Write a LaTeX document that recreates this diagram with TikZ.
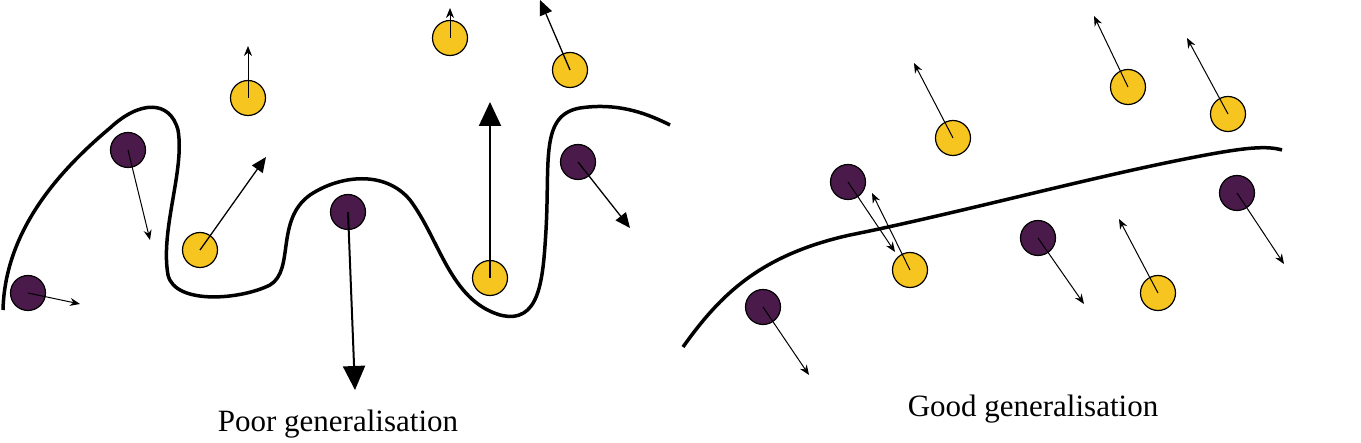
\documentclass[tikz,border=0pt]{standalone}
\usepackage{fontspec}
\setmainfont{Liberation Serif}
\usetikzlibrary{arrows.meta}
\definecolor{pur}{HTML}{4A1A4A}
\definecolor{yel}{HTML}{F7C520}
\begin{document}
\begin{tikzpicture}[x=1pt,y=-1pt,
  pt/.style={circle,draw=black,line width=1.2pt,minimum size=35pt,inner sep=0pt},
  pp/.style={pt,fill=pur},
  yp/.style={pt,fill=yel},
  thin/.style={line width=1pt,-{Stealth[length=10pt,width=8pt]}},
  thick/.style={line width=2pt,-{Triangle[length=24pt,width=22pt]}},
  mid/.style={line width=1.3pt,-{Triangle[length=15pt,width=13pt]}},
  bd/.style={line width=3.5pt,line join=round}]
\useasboundingbox (0,0) rectangle (1361,443);
% left boundary
\draw[bd] (3,310) .. controls (5,230) and (60,170) .. (110,128)
  .. controls (140,100) and (170,100) .. (178,130)
  .. controls (185,170) and (160,230) .. (168,275)
  .. controls (175,305) and (240,300) .. (270,285)
  .. controls (295,270) and (275,220) .. (310,195)
  .. controls (340,175) and (385,170) .. (410,200)
  .. controls (440,240) and (450,300) .. (500,315)
  .. controls (540,325) and (543,280) .. (546,230)
  .. controls (550,160) and (540,115) .. (580,108)
  .. controls (620,102) and (650,115) .. (670,125);
% right boundary
\draw[bd] (683,347) .. controls (720,295) and (760,255) .. (850,235)
  .. controls (950,215) and (1080,180) .. (1180,160)
  .. controls (1240,148) and (1265,145) .. (1282,150);
% left points
\node[pp] (a1) at (28,293) {};
\node[pp] (a2) at (128,150) {};
\node[pp] (a3) at (348,212) {};
\node[pp] (a4) at (578,162) {};
\node[yp] (b1) at (248,98) {};
\node[yp] (b2) at (450,38) {};
\node[yp] (b3) at (570,70) {};
\node[yp] (b4) at (200,250) {};
\node[yp] (b5) at (490,278) {};
\coordinate (ea1) at (80,304);
\coordinate (ea2) at (150,240);
\coordinate (ea3) at (355,390);
\coordinate (ea4) at (630,228);
\coordinate (eb1) at (248,46);
\coordinate (eb2) at (450,8);
\coordinate (eb3) at (540,0);
\coordinate (eb4) at (266,157);
\coordinate (eb5) at (490,102);
\draw[thin] (a1.center) -- (ea1);
\draw[thin] (a2.center) -- (ea2);
\draw[thick] (a3.center) -- (ea3);
\draw[mid] (a4.center) -- (ea4);
\draw[thin] (b1.center) -- (eb1);
\draw[thin] (b2.center) -- (eb2);
\draw[mid] (b3.center) -- (eb3);
\draw[mid] (b4.center) -- (eb4);
\draw[thick] (b5.center) -- (eb5);
% right points
\node[yp] (c1) at (953,138) {};
\node[yp] (c2) at (1128,87) {};
\node[yp] (c3) at (1228,114) {};
\node[yp] (c4) at (910,270) {};
\node[yp] (c5) at (1158,293) {};
\node[pp] (d1) at (848,182) {};
\node[pp] (d2) at (763,307) {};
\node[pp] (d3) at (1038,238) {};
\node[pp] (d4) at (1237,193) {};
\coordinate (ec1) at (914,63);
\coordinate (ec2) at (1094,16);
\coordinate (ec3) at (1187,38);
\coordinate (ec4) at (872,193);
\coordinate (ec5) at (1119,219);
\coordinate (ed1) at (895,252);
\coordinate (ed2) at (809,375);
\coordinate (ed3) at (1084,304);
\coordinate (ed4) at (1284,264);
\foreach \s/\e in {c1/ec1,c2/ec2,c3/ec3,c4/ec4,c5/ec5,d1/ed1,d2/ed2,d3/ed3,d4/ed4}
  \draw[thin] (\s.center) -- (\e);
\node[font=\fontsize{31}{34}\selectfont] (t1) at (338,424) {Poor generalisation};
\node[font=\fontsize{31}{34}\selectfont] (t2) at (1033,409) {Good generalisation};
\end{tikzpicture}
\end{document}
